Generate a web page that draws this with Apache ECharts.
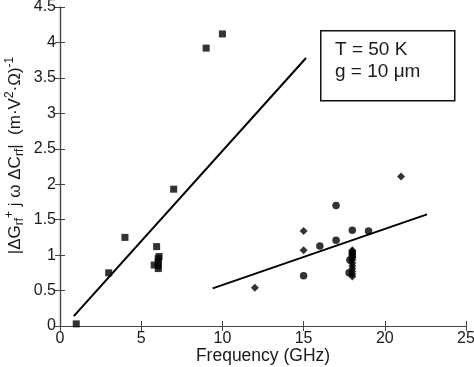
<!DOCTYPE html>
<html>
<head>
<meta charset="utf-8">
<script src="https://cdn.jsdelivr.net/npm/echarts@6/dist/echarts.min.js"></script>
<style>html,body{margin:0;padding:0;background:#fff}#c{width:474px;height:367px}</style>
</head>
<body>
<div id="c"></div>
<script>
// X/Y axis ranges and ticks
const xTicks = [0, 5, 10, 15, 20, 25];
const yTicks = [0, 0.5, 1, 1.5, 2, 2.5, 3, 3.5, 4, 4.5];

// Squares (low-frequency data)
const squareData = [
  [1.0, 0.03], [3.0, 0.75], [4.0, 1.25], [5.95, 1.12], [5.8, 0.86],
  [6.05, 0.81], [6.05, 0.85], [6.05, 0.90], [6.05, 0.95], [6.1, 0.98],
  [7.0, 1.93], [9.0, 3.92], [10.0, 4.12]
];
// Circles
const circleData = [
  [15.0, 0.71], [16.0, 1.13], [17.0, 1.21], [17.0, 1.70], [18.0, 1.35],
  [19.0, 1.34], [17.8, 0.75], [17.85, 0.93], [18.0, 0.98], [18.0, 1.03]
];
// Diamonds
const diamondData = [
  [12.0, 0.54], [15.0, 1.34], [15.0, 1.07], [21.0, 2.11],
  [18.0, 0.70], [18.0, 0.73], [18.0, 0.77], [18.0, 0.81], [18.0, 0.85],
  [18.0, 0.89], [18.0, 0.93], [18.0, 0.97], [18.0, 1.01], [18.0, 1.05], [18.0, 1.07]
];
// Fit lines (endpoints)
const fitLine1 = [[0.85, 0.14], [15.15, 3.78]];
const fitLine2 = [[9.4, 0.53], [22.6, 1.575]];

const annotation = ['T = 50 K', 'g = 10 \u03BCm'];

const chart = echarts.init(document.getElementById('c'), null, {renderer: 'canvas'});
const F = 'Liberation Sans, Arial, sans-serif';
const axColor = '#444';
const txt = '#1a1a1a';

const xBase = {
  type: 'value', min: xTicks[0], max: xTicks[xTicks.length - 1], interval: 5,
  axisLine: {show: true, lineStyle: {color: axColor, width: 1.2}},
  axisTick: {show: true, inside: true, length: 5, lineStyle: {color: axColor}},
  splitLine: {show: false}
};
const yBase = {
  type: 'value', min: yTicks[0], max: yTicks[yTicks.length - 1], interval: 0.5,
  axisLine: {show: true, lineStyle: {color: axColor, width: 1.2}},
  axisTick: {show: true, inside: true, length: 5, lineStyle: {color: axColor}},
  splitLine: {show: false}
};

chart.setOption({
  animation: false,
  backgroundColor: '#fff',
  grid: {left: 60, right: 8, top: 7, bottom: 41, containLabel: false, outerBoundsMode: 'none'},
  xAxis: [
    Object.assign({}, xBase, {
      position: 'bottom',
      axisLabel: {color: txt, fontFamily: F, fontSize: 16, margin: 5},
      name: 'Frequency (GHz)', nameLocation: 'middle', nameGap: 21, nameMoveOverlap: false,
      nameTextStyle: {color: txt, fontFamily: F, fontSize: 17.5}
    }),
    Object.assign({}, xBase, {position: 'top', axisLabel: {show: false}})
  ],
  yAxis: [
    Object.assign({}, yBase, {
      position: 'left',
      axisLabel: {color: txt, fontFamily: F, fontSize: 16, margin: 4},
      name: '|\u0394G{sub|rf}{sup|+} j \u03C9 \u0394C{sub|rf}|  (m\u00B7V{sup|2}\u00B7\u03A9){sup|-1}',
      nameLocation: 'middle', nameRotate: 90, nameGap: 34, nameMoveOverlap: false,
      nameTextStyle: {
        color: txt, fontFamily: F, fontSize: 17, padding: [0, 0, 0, 22],
        rich: {
          sub: {fontFamily: F, fontSize: 12, color: txt, padding: [10, 0, 0, 0]},
          sup: {fontFamily: F, fontSize: 12, color: txt, padding: [0, 0, 10, 0]}
        }
      }
    }),
    Object.assign({}, yBase, {position: 'right', axisLabel: {show: false}})
  ],
  series: [
    {type: 'line', data: fitLine1, symbol: 'none', lineStyle: {color: '#000', width: 2}, silent: true},
    {type: 'line', data: fitLine2, symbol: 'none', lineStyle: {color: '#000', width: 2}, silent: true},
    {type: 'scatter', data: squareData, symbol: 'rect', symbolSize: 7, itemStyle: {color: '#000'}},
    {type: 'scatter', data: circleData, symbol: 'circle', symbolSize: 7.5, itemStyle: {color: '#000'}},
    {type: 'scatter', data: diamondData, symbol: 'diamond', symbolSize: 8, itemStyle: {color: '#000'}}
  ],
  graphic: [
    {type: 'rect', left: 320, top: 30, shape: {width: 134, height: 70},
     style: {fill: '#fff', stroke: '#111', lineWidth: 1.5}, z: 10},
    {type: 'text', left: 335, top: 40, z: 11,
     style: {text: annotation[0], fill: txt, font: '19px ' + F}},
    {type: 'text', left: 335, top: 62, z: 11,
     style: {text: annotation[1], fill: txt, font: '19px ' + F}}
  ]
});
</script>
</body>
</html>
